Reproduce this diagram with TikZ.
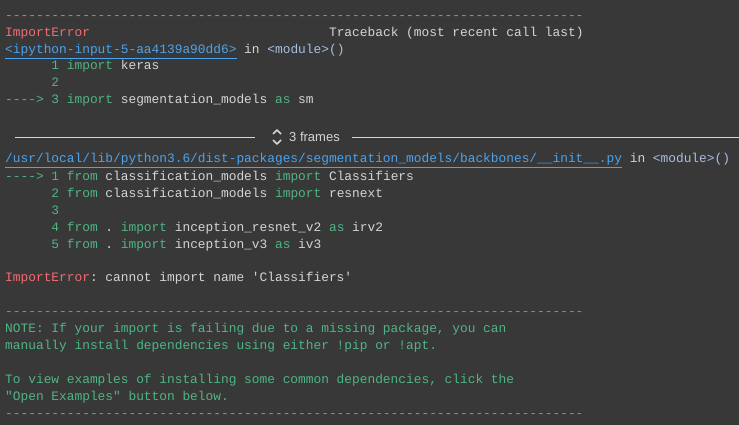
\documentclass[tikz,border=0pt]{standalone}
\usepackage{fontspec}
\setmonofont{Liberation Mono}
\setsansfont{Liberation Sans}
\definecolor{bg}{HTML}{383838}
\definecolor{tx}{HTML}{D5D5D5}
\definecolor{rd}{HTML}{F26B73}
\definecolor{gn}{HTML}{4FB585}
\definecolor{lk}{HTML}{4BA3EE}
\definecolor{md}{HTML}{A7BFE3}
\newcommand{\R}[1]{\textcolor{rd}{#1}}
\newcommand{\G}[1]{\textcolor{gn}{#1}}
\newcommand{\M}[1]{\textcolor{md}{#1}}
\newcommand{\Lk}[1]{\textcolor{lk}{\underline{#1}}}
\begin{document}
\begin{tikzpicture}[x=1pt,y=1pt,
  ln/.style={anchor=base west,inner sep=0pt,font=\ttfamily\fontsize{12.85}{15}\selectfont,text=tx}]
\fill[bg] (0,0) rectangle (739,-425);
\useasboundingbox (0,0) rectangle (739,-425);
\node[ln] (l1) at (5,-20) {\R{---------------------------------------------------------------------------}};
\node[ln] (l2) at (5,-37) {\R{ImportError}~~~~~~~~~~~~~~~~~~~~~~~~~~~~~~~Traceback (most recent call last)};
\node[ln] (l3) at (5,-54) {\Lk{<ipython-input-5-aa4139a90dd6>} in \M{<module>()}};
\node[ln] (l4) at (5,-70) {~~~~~~\G{1 import} keras};
\node[ln] (l5) at (5,-87) {~~~~~~\G{2}};
\node[ln] (l6) at (5,-104) {\G{----> 3 import} segmentation\_models \G{as} sm};
\draw[tx,line width=0.8pt] (15,-137) -- (255,-137);
\draw[tx,line width=0.8pt] (352,-137) -- (739,-137);
\coordinate (ic) at (277,-137);
\draw[tx,line width=1.6pt,line join=round] ([shift={(-4,-3)}]ic) -- ([shift={(0,-7)}]ic) -- ([shift={(4,-3)}]ic);
\draw[tx,line width=1.6pt,line join=round] ([shift={(-4,3)}]ic) -- ([shift={(0,7)}]ic) -- ([shift={(4,3)}]ic);
\node[anchor=base west,inner sep=0pt,text=tx,font=\sffamily\fontsize{13}{15}\selectfont] (fr) at (289,-142) {3 frames};
\node[ln] (l7) at (5,-163) {\Lk{/usr/local/lib/python3.6/dist-packages/segmentation\_models/backbones/\_\_init\_\_.py} in \M{<module>()}};
\node[ln] (l8) at (5,-180) {\G{----> 1 from} classification\_models \G{import} Classifiers};
\node[ln] (l9) at (5,-197) {~~~~~~\G{2 from} classification\_models \G{import} resnext};
\node[ln] (l10) at (5,-214) {~~~~~~\G{3}};
\node[ln] (l11) at (5,-231) {~~~~~~\G{4 from} . \G{import} inception\_resnet\_v2 \G{as} irv2};
\node[ln] (l12) at (5,-248) {~~~~~~\G{5 from} . \G{import} inception\_v3 \G{as} iv3};
\node[ln] (l13) at (5,-281) {\R{ImportError}: cannot import name 'Classifiers'};
\node[ln] (l14) at (5,-315) {\G{---------------------------------------------------------------------------}};
\node[ln,text=gn] (l15) at (5,-332) {NOTE: If your import is failing due to a missing package, you can};
\node[ln,text=gn] (l16) at (5,-349) {manually install dependencies using either !pip or !apt.};
\node[ln,text=gn] (l17) at (5,-383) {To view examples of installing some common dependencies, click the};
\node[ln,text=gn] (l18) at (5,-400) {"Open Examples" button below.};
\node[ln] (l19) at (5,-417) {\G{---------------------------------------------------------------------------}};
\end{tikzpicture}
\end{document}
